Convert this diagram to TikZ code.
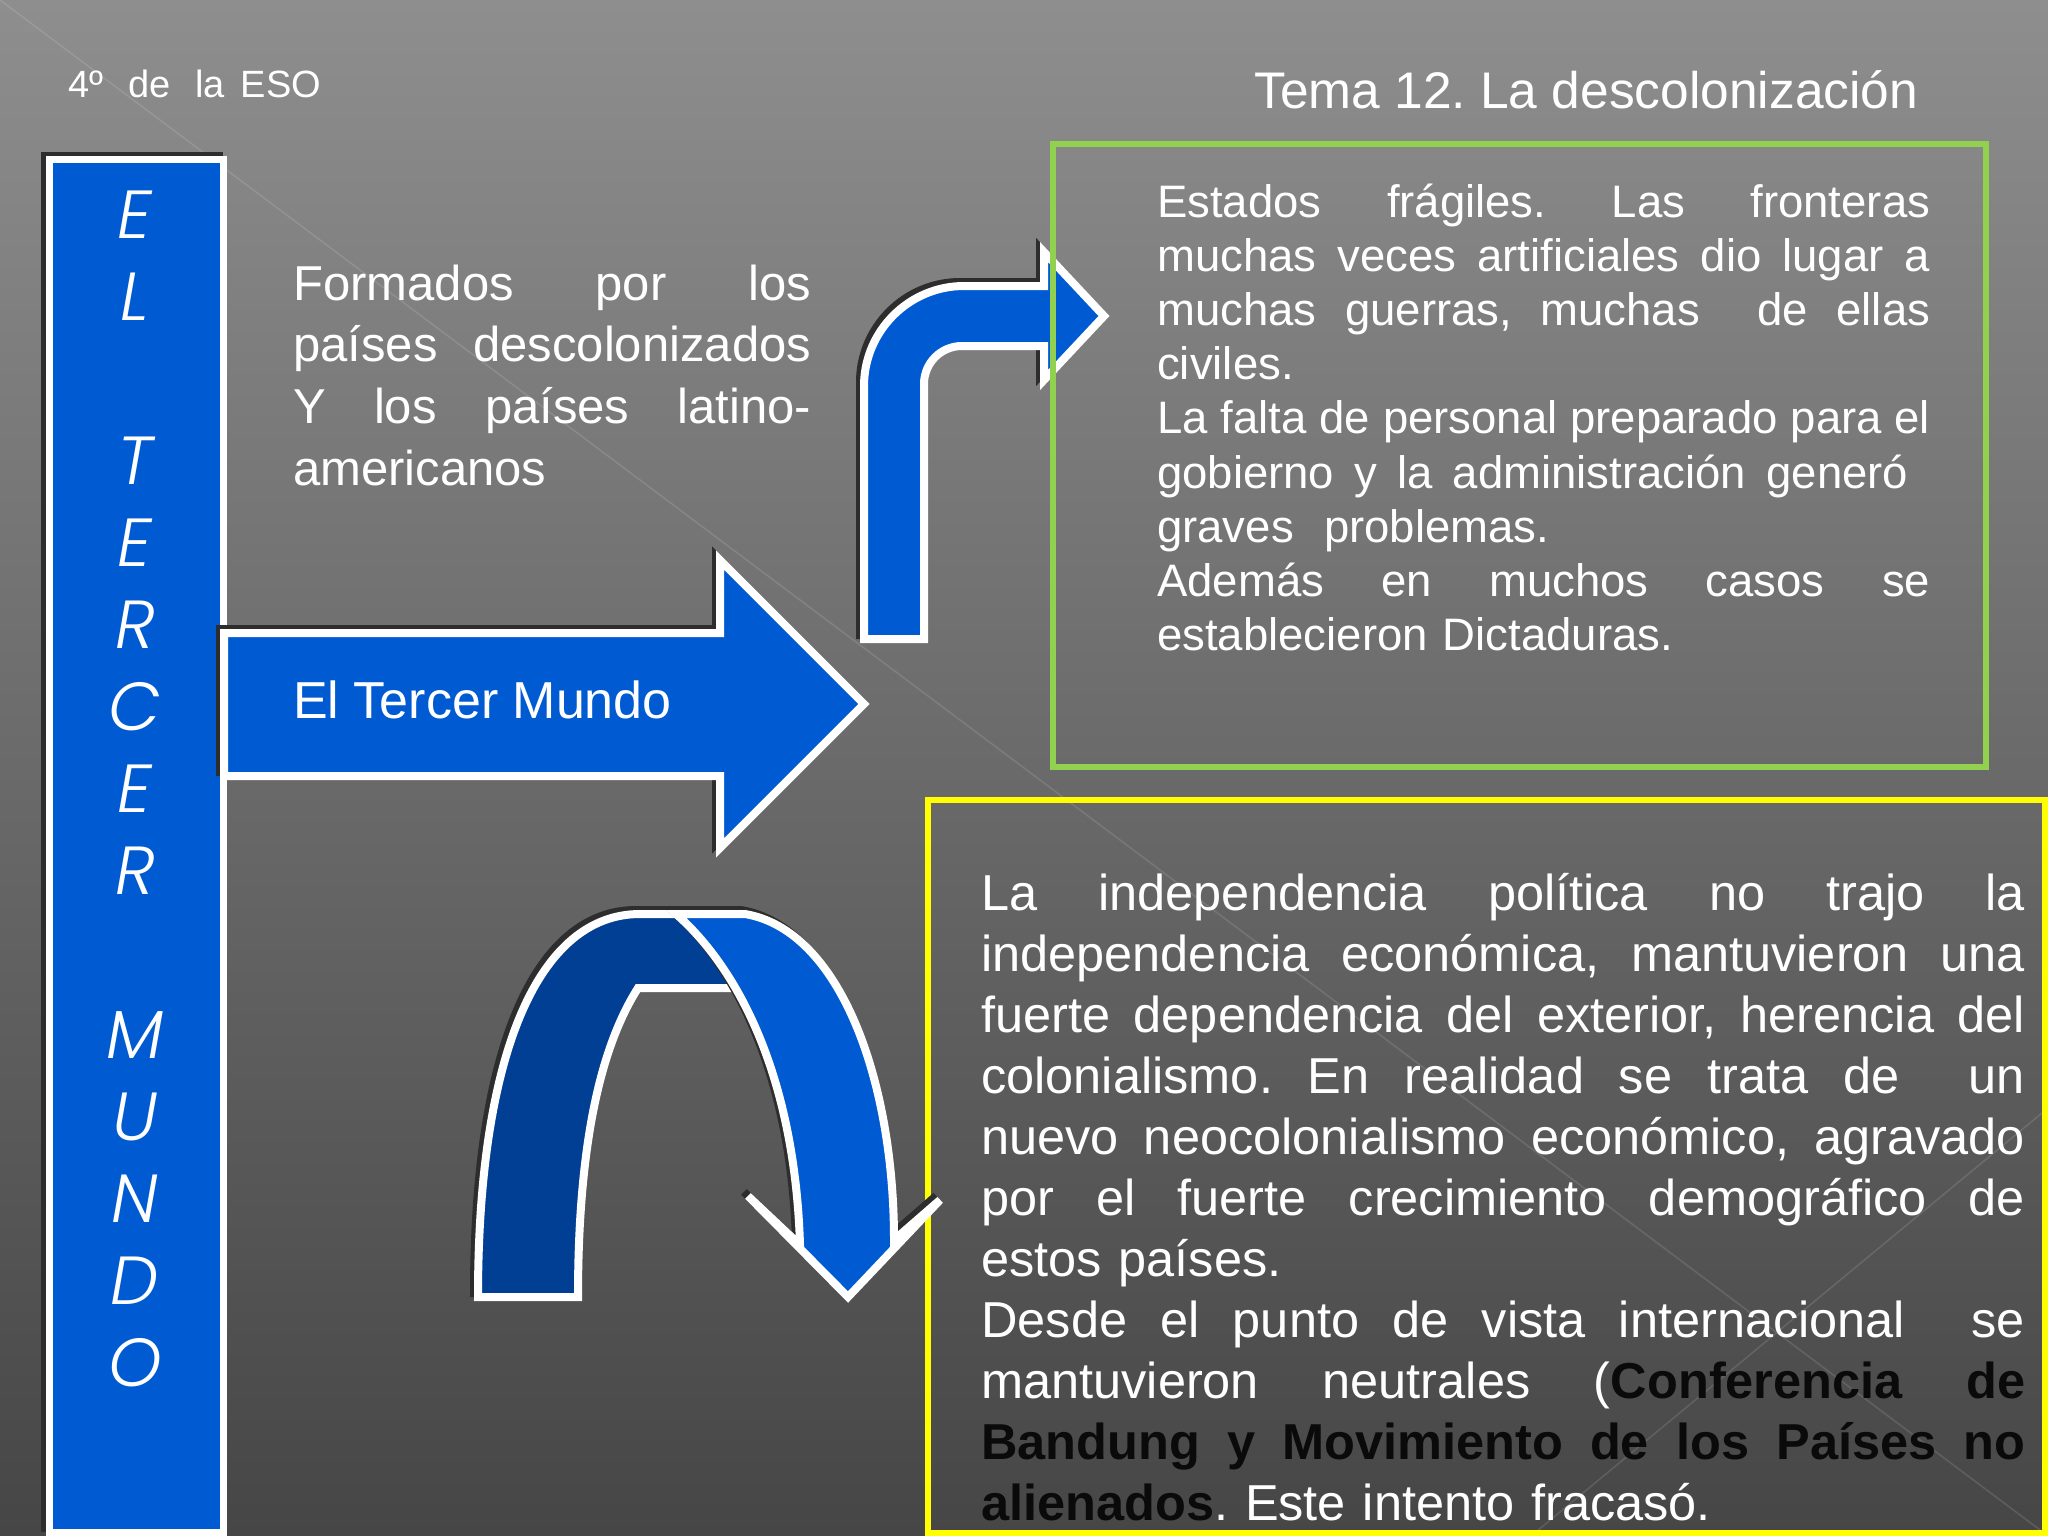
\documentclass[tikz,border=0pt]{standalone}
\usepackage{fontspec}
\setmainfont{Liberation Sans}
\newfontfamily\letrafont{Poppins Light Italic}
\definecolor{azul}{RGB}{0,91,211}
\definecolor{azuloscuro}{RGB}{0,63,148}
\definecolor{verdemarco}{RGB}{146,208,80}
\definecolor{amarillomarco}{RGB}{255,255,0}
\definecolor{sombragris}{RGB}{45,45,45}
\definecolor{fondoarriba}{RGB}{142,142,142}
\definecolor{fondoabajo}{RGB}{70,70,70}
\definecolor{negrotexto}{RGB}{10,10,10}
\frenchspacing
\newcommand\justa[1]{\makebox[\hsize][s]{\spaceskip=0pt\xspaceskip=0pt\relax #1}\\}
\newcommand\negrita[1]{{\bfseries\color{negrotexto}#1}}
\tikzset{
  flecha/.style={draw=white, line width=8pt, fill=azul, line join=miter,
    preaction={draw=sombragris, fill=sombragris, line width=8pt, transform canvas={shift={(-4,-4)}}}},
  marco/.style={line width=6pt},
  cuerpo/.style={text=white, anchor=base west, inner sep=0pt, align=left},
  barletra/.style={font=\letrafont\fontsize{68}{68}\selectfont, text=white, anchor=base, inner sep=0pt}
}
\begin{document}
\begin{tikzpicture}[x=1pt,y=-1pt]
\useasboundingbox (0,0) rectangle (2048,1536);
\shade[top color=fondoarriba, bottom color=fondoabajo] (0,0) rectangle (2048,1536);
\draw[white, opacity=0.12, line width=1.5pt] (0,0) -- (2048,1536) (2048,1108) -- (1531,1536);
\node[cuerpo, font=\fontsize{38}{42}\selectfont] (curso) at (68,98) {4º\hspace{25pt}de\hspace{25pt}la\hspace{16pt}ESO};
\node[cuerpo, font=\fontsize{51.5}{60}\selectfont] (titulo) at (1254,109) {Tema 12. La descolonización};
\draw[flecha, line width=7pt] (49,160) rectangle (223,1532);
\foreach \l/\k [count=\i] in {E/0,L/1,T/3,E/4,R/5,C/6,E/7,R/8,M/10,U/11,N/12,D/13,O/14}
  \node[barletra] (letra\i) at (135,238+82*\k) {\l};
\draw[flecha] (224,633) -- (720,633) -- (720,560) -- (864,704) -- (720,848) -- (720,776) -- (224,776) -- cycle;
\node[cuerpo, font=\fontsize{52}{60}\selectfont] (tercer) at (293,718) {El Tercer Mundo};
\node[cuerpo, text width=518pt, font=\fontsize{49}{61.7}\selectfont] (formados) at (293,300)
  {\justa{Formados por los}\justa{países descolonizados}\justa{Y los países latino-}americanos};
\draw[flecha] (864,639) -- (864,386) .. controls (864,331) and (909,286) .. (964,286) -- (1044,286) -- (1044,252) -- (1104,316)
  -- (1044,380) -- (1044,346) -- (962,346) .. controls (941,346) and (924,363) .. (924,384) -- (924,639) -- cycle;
\draw[marco, draw=verdemarco] (1053,144) rectangle (1986,767);
\node[cuerpo, text width=773pt, font=\fontsize{45.5}{54.2}\selectfont] (estados) at (1157,217)
  {\justa{Estados frágiles. Las fronteras}\justa{muchas veces artificiales dio lugar a}\justa{muchas guerras, muchas \ de ellas}civiles.\\
   \justa{La falta de personal preparado para el}\makebox[751pt][s]{\spaceskip=0pt\relax gobierno y la administración generó}\\graves\ \ problemas.\\
   \justa{Además en muchos casos se}establecieron Dictaduras.};
\draw[marco, draw=amarillomarco] (928,800) rectangle (2045,1533);
\draw[flecha, fill=azuloscuro] (478,1297) .. controls (478,1050) and (540,914) .. (640,914) -- (710,914) -- (733,988) -- (638,988)
  .. controls (605,1040) and (578,1130) .. (578,1297) -- cycle;
\draw[flecha] (676,914) .. controls (740,970) and (795,1080) .. (800,1245) -- (748,1196) -- (848,1297) -- (940,1200) -- (894,1240)
  .. controls (894,1080) and (840,930) .. (745,914) -- cycle;
\node[cuerpo, text width=1044pt, font=\fontsize{50.5}{61}\selectfont] (independencia) at (981,910)
  {\justa{La independencia política no trajo la}\justa{independencia económica, mantuvieron una}\justa{fuerte dependencia del exterior, herencia del}
   \justa{colonialismo. En realidad se trata de \ un}\justa{nuevo neocolonialismo económico, agravado}\justa{por el fuerte crecimiento demográfico de}estos países.\\
   \justa{Desde el punto de vista internacional \ se}\justa{mantuvieron neutrales (\negrita{Conferencia de}}\justa{\negrita{Bandung y Movimiento de los Países no}}\negrita{alienados}. Este intento fracasó.};
\end{tikzpicture}
\end{document}
